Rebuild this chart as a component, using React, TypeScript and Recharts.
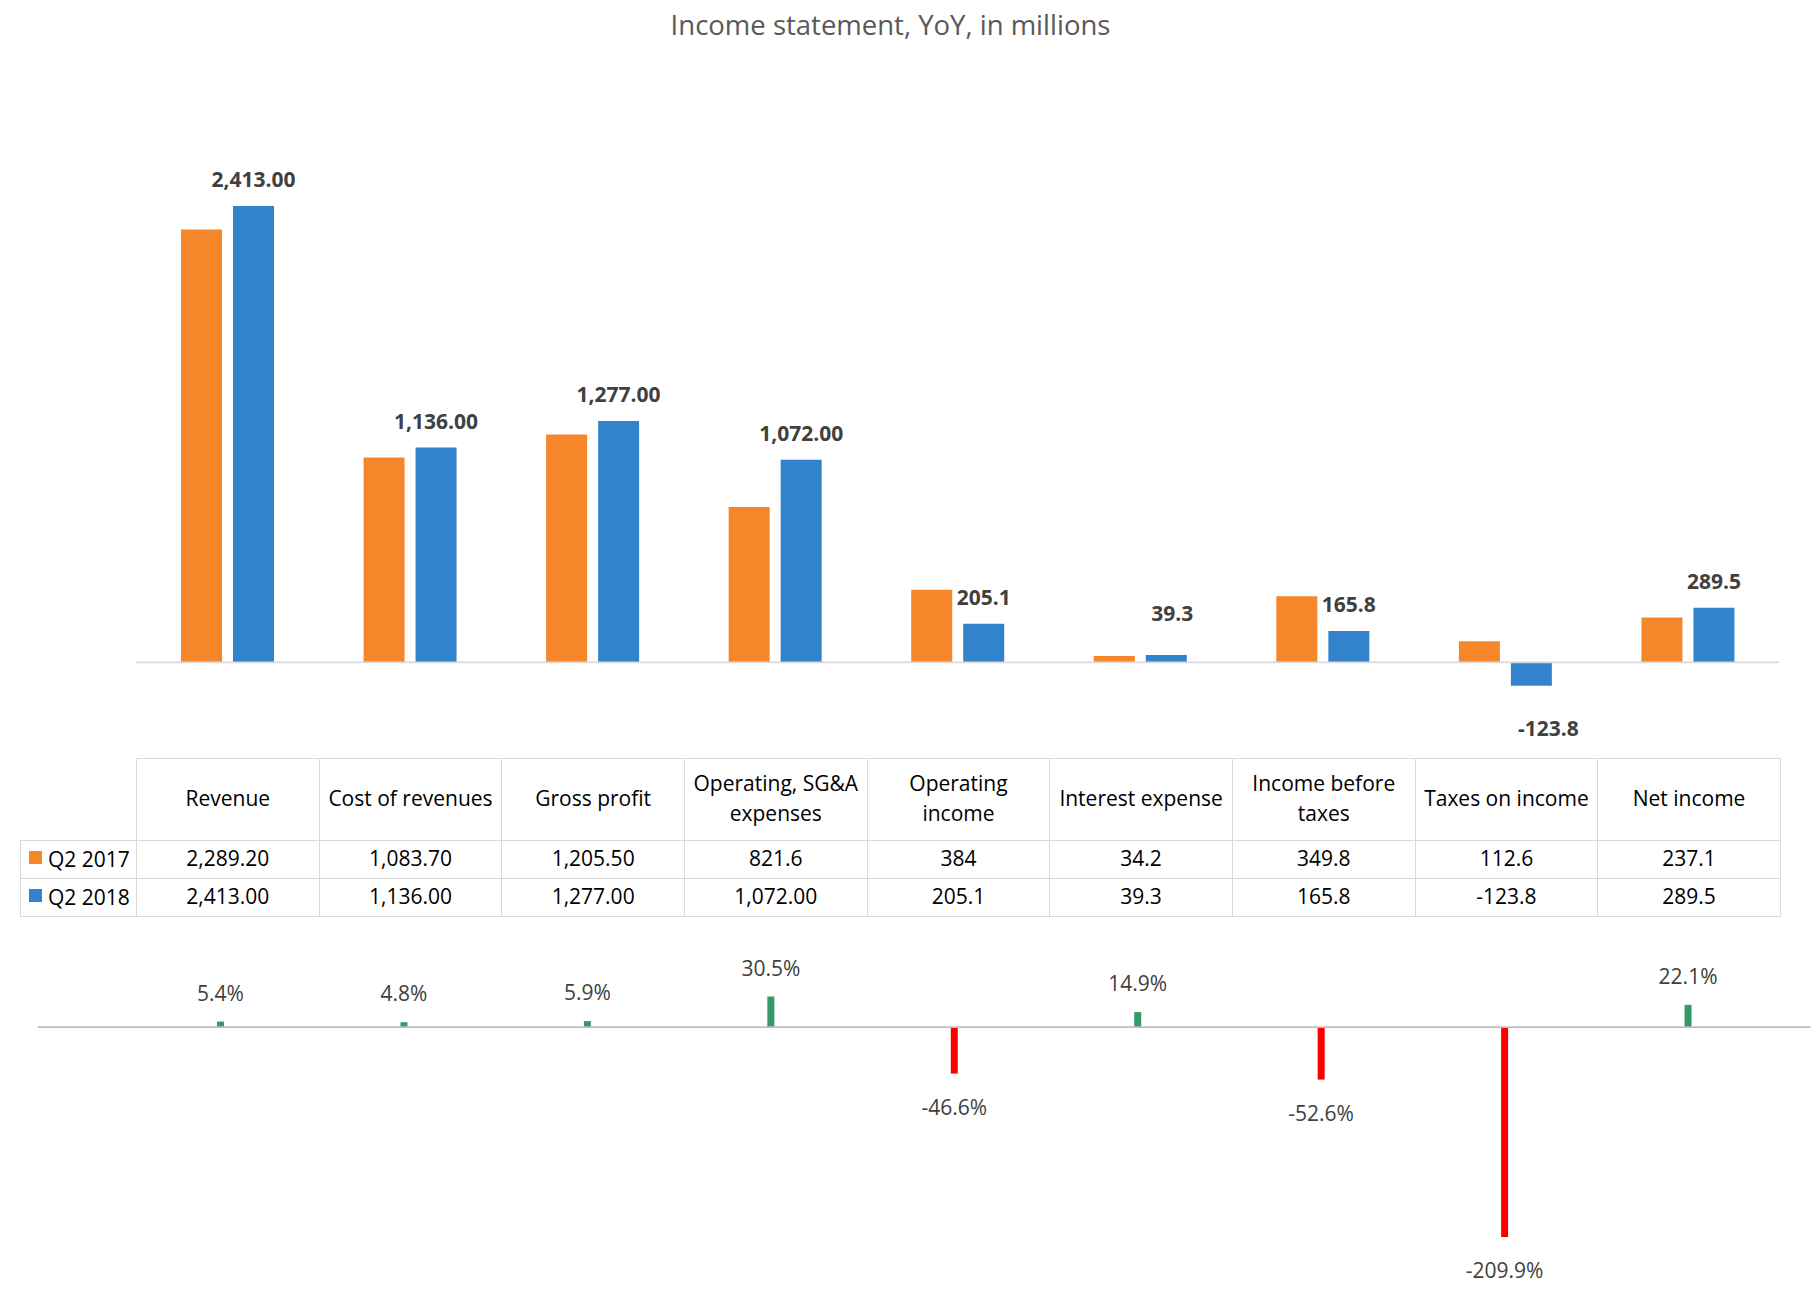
import React from 'react';
import { BarChart, Bar, XAxis, YAxis, ReferenceLine, LabelList, Cell } from 'recharts';

// ---------- data ----------
const categories = [
  'Revenue',
  'Cost of revenues',
  'Gross profit',
  'Operating, SG&A expenses',
  'Operating income',
  'Interest expense',
  'Income before taxes',
  'Taxes on income',
  'Net income',
];
const headerLabels = [
  'Revenue',
  'Cost of revenues',
  'Gross profit',
  'Operating, SG&A\nexpenses',
  'Operating\nincome',
  'Interest expense',
  'Income before\ntaxes',
  'Taxes on income',
  'Net income',
];
const seriesNames = ['Q2 2017', 'Q2 2018'];
const q2017 = [2289.2, 1083.7, 1205.5, 821.6, 384, 34.2, 349.8, 112.6, 237.1];
const q2018 = [2413, 1136, 1277, 1072, 205.1, 39.3, 165.8, -123.8, 289.5];
const yoyPct = [5.4, 4.8, 5.9, 30.5, -46.6, 14.9, -52.6, -209.9, 22.1];

// ---------- styles ----------
const ORANGE = '#F5862A';
const BLUE = '#3383CC';
const GREEN = '#339966';
const RED = '#FF0000';
const LABEL = '#404040';
const FONT = '"Open Sans", "Noto Sans", sans-serif';

const topData = categories.map((name, i) => ({ name, q2017: q2017[i], q2018: q2018[i] }));
const yoyData = categories.map((name, i) => ({ name, pct: yoyPct[i] }));

const fmt = (v: number) =>
  Math.abs(v) >= 1000
    ? v.toLocaleString('en-US', { minimumFractionDigits: 2, maximumFractionDigits: 2 })
    : String(v);

// hand-placed label nudges from the original chart
const labelNudges: Record<string, { dx: number; dy: number }> = {
  'Interest expense': { dx: 6, dy: -15 },
  'Taxes on income': { dx: 17, dy: 20 },
};

const geom = (props: any) => {
  const vb = props.viewBox || {};
  const x = props.x ?? vb.x;
  const y = props.y ?? vb.y;
  const width = props.width ?? vb.width;
  const height = props.height ?? vb.height;
  return {
    cx: x + width / 2,
    top: Math.min(y, y + height),
    bottom: Math.max(y, y + height),
  };
};

const TopLabel = (props: any) => {
  const { value, index } = props;
  const { cx, top, bottom } = geom(props);
  const n = labelNudges[categories[index]] || { dx: 0, dy: 0 };
  const by = value >= 0 ? top - 19 + n.dy : bottom + 30 + n.dy;
  return (
    <text x={cx + n.dx} y={by} textAnchor="middle" fill={LABEL} fontSize={21} fontWeight={700} fontFamily={FONT}>
      {fmt(value)}
    </text>
  );
};

const PctLabel = (props: any) => {
  const { value } = props;
  const { cx, top, bottom } = geom(props);
  const by = value >= 0 ? top - 21 : bottom + 41;
  return (
    <text x={cx} y={by} textAnchor="middle" fill={LABEL} fontSize={21} fontFamily={FONT}>
      {`${value.toFixed(1)}%`}
    </text>
  );
};

const cellStyle: React.CSSProperties = {
  border: '1.5px solid #D9D9D9',
  textAlign: 'center',
  verticalAlign: 'middle',
  padding: 0,
  paddingBottom: 3,
  lineHeight: '30px',
};

export default function App() {
  const rows = [q2017, q2018];
  const colors = [ORANGE, BLUE];
  return (
    <div
      style={{
        position: 'absolute',
        left: 0,
        top: 0,
        width: 1811,
        height: 1309,
        background: '#fff',
        fontFamily: FONT,
        overflow: 'hidden',
      }}
    >
      <svg width={1811} height={60} style={{ position: 'absolute', left: 0, top: 0 }}>
        <text x={890.5} y={35} textAnchor="middle" fontSize={27.5} fill="#595959" fontFamily={FONT}>
          Income statement, YoY, in millions
        </text>
      </svg>

      <div style={{ position: 'absolute', left: 0, top: 0 }}>
        <BarChart
          width={1811}
          height={770}
          data={topData}
          margin={{ top: 95, right: 32, bottom: 13, left: 136 }}
          barGap={11}
        >
          <XAxis dataKey="name" hide />
          <YAxis hide domain={[-500, 3000]} type="number" />
          <Bar dataKey="q2017" name={seriesNames[0]} fill={ORANGE} barSize={41} isAnimationActive={false} />
          <Bar dataKey="q2018" name={seriesNames[1]} fill={BLUE} barSize={41} isAnimationActive={false}>
            <LabelList dataKey="q2018" content={TopLabel} />
          </Bar>
          <ReferenceLine y={0} stroke="#D9D9D9" strokeWidth={1.75} />
        </BarChart>
      </div>

      <table
        style={{
          position: 'absolute',
          left: 20,
          top: 758,
          width: 1760,
          borderCollapse: 'collapse',
          tableLayout: 'fixed',
          fontSize: 21,
          color: '#000',
          fontFamily: FONT,
        }}
      >
        <colgroup>
          <col style={{ width: 116 }} />
          {categories.map((c) => (
            <col key={c} style={{ width: 182.67 }} />
          ))}
        </colgroup>
        <tbody>
          <tr style={{ height: 82 }}>
            <td style={{ ...cellStyle, borderTop: 'none', borderLeft: 'none' }} />
            {headerLabels.map((h) => (
              <td key={h} style={{ ...cellStyle, whiteSpace: 'pre-line' }}>
                {h}
              </td>
            ))}
          </tr>
          {rows.map((vals, r) => (
            <tr key={seriesNames[r]} style={{ height: 38 }}>
              <td style={{ ...cellStyle, textAlign: 'left', whiteSpace: 'nowrap' }}>
                <span
                  style={{
                    display: 'inline-block',
                    width: 13,
                    height: 13,
                    background: colors[r],
                    marginLeft: 8,
                    marginRight: 6,
                    verticalAlign: 'middle',
                    position: 'relative',
                    top: -2,
                  }}
                />
                <span style={{ verticalAlign: 'middle' }}>{seriesNames[r]}</span>
              </td>
              {vals.map((v, i) => (
                <td key={categories[i]} style={cellStyle}>
                  {fmt(v)}
                </td>
              ))}
            </tr>
          ))}
        </tbody>
      </table>

      <div style={{ position: 'absolute', left: 0, top: 940 }}>
        <BarChart
          width={1811}
          height={369}
          data={yoyData}
          margin={{ top: 37, right: 0, bottom: 32, left: 38 }}
        >
          <XAxis dataKey="name" hide padding={{ left: 91, right: 31 }} />
          <YAxis hide domain={[-250, 50]} type="number" />
          <ReferenceLine y={0} stroke="#BFBFBF" strokeWidth={1.75} />
          <Bar dataKey="pct" barSize={7} isAnimationActive={false}>
            {yoyData.map((d) => (
              <Cell key={d.name} fill={d.pct >= 0 ? GREEN : RED} />
            ))}
            <LabelList dataKey="pct" content={PctLabel} />
          </Bar>
        </BarChart>
      </div>
    </div>
  );
}
